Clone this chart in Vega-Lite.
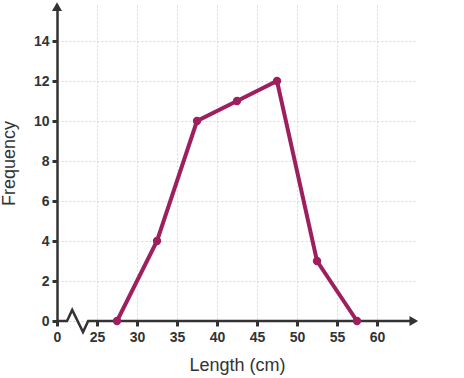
{
  "$schema": "https://vega.github.io/schema/vega-lite/v6.json",
  "autosize": "none",
  "width": 360,
  "height": 316,
  "padding": {"left": 57, "top": 5, "right": 47, "bottom": 57},
  "background": "white",
  "config": {
    "view": {"stroke": null},
    "font": "Liberation Sans",
    "axis": {
      "labelFont": "Liberation Sans",
      "labelFontWeight": "bold",
      "labelFontSize": 14,
      "labelColor": "#333333",
      "labelFlush": false,
      "titleFont": "Liberation Sans",
      "titleFontWeight": "normal",
      "titleFontSize": 18,
      "titleColor": "#333333",
      "gridColor": "#d6d7e1",
      "gridDash": [2, 2],
      "gridWidth": 1,
      "tickColor": "#333333",
      "tickWidth": 3,
      "tickSize": 5
    }
  },
  "datasets": {
    "freq": [
      {"length": 27.5, "frequency": 0},
      {"length": 32.5, "frequency": 4},
      {"length": 37.5, "frequency": 10},
      {"length": 42.5, "frequency": 11},
      {"length": 47.5, "frequency": 12},
      {"length": 52.5, "frequency": 3},
      {"length": 57.5, "frequency": 0}
    ],
    "xaxis": [
      {"i": 0, "length": 20, "frequency": 0},
      {"i": 1, "length": 21.25, "frequency": 0},
      {"i": 2, "length": 21.9, "frequency": 0.55},
      {"i": 3, "length": 23.25, "frequency": -0.55},
      {"i": 4, "length": 23.9, "frequency": 0},
      {"i": 5, "length": 64.5, "frequency": 0}
    ],
    "arrows": [
      {"length": 64.6, "frequency": 0, "dir": "right"},
      {"length": 20, "frequency": 15.72, "dir": "up"}
    ]
  },
  "layer": [
    {
      "data": {"name": "xaxis"},
      "mark": {"type": "line", "color": "#333333", "strokeWidth": 2.5, "clip": false},
      "encoding": {
        "x": {
          "field": "length",
          "type": "quantitative",
          "scale": {"domain": [20, 65], "nice": false, "zero": false},
          "axis": {
            "values": [20, 25, 30, 35, 40, 45, 50, 55, 60],
            "labelExpr": "datum.value == 20 ? '0' : datum.label",
            "domain": false,
            "grid": true,
            "title": "Length (cm)",
            "titlePadding": 12,
            "labelPadding": 4
          }
        },
        "y": {
          "field": "frequency",
          "type": "quantitative",
          "scale": {"domain": [0, 15.8], "nice": false},
          "axis": {
            "values": [0, 2, 4, 6, 8, 10, 12, 14],
            "domain": true,
            "domainColor": "#333333",
            "domainWidth": 2.5,
            "grid": true,
            "title": "Frequency",
            "titlePadding": 15,
            "labelPadding": 3
          }
        },
        "order": {"field": "i", "type": "quantitative"}
      }
    },
    {
      "data": {"name": "freq"},
      "mark": {"type": "line", "color": "#9e1f5e", "strokeWidth": 4, "point": {"filled": true, "size": 70, "color": "#9e1f5e"}},
      "encoding": {
        "x": {"field": "length", "type": "quantitative"},
        "y": {"field": "frequency", "type": "quantitative"}
      }
    },
    {
      "data": {"name": "arrows"},
      "mark": {"type": "point", "filled": true, "color": "#333333", "opacity": 1, "size": 100, "clip": false},
      "encoding": {
        "x": {"field": "length", "type": "quantitative"},
        "y": {"field": "frequency", "type": "quantitative"},
        "shape": {
          "field": "dir",
          "type": "nominal",
          "scale": {"domain": ["right", "up"], "range": ["triangle-right", "triangle-up"]},
          "legend": null
        }
      }
    }
  ]
}
